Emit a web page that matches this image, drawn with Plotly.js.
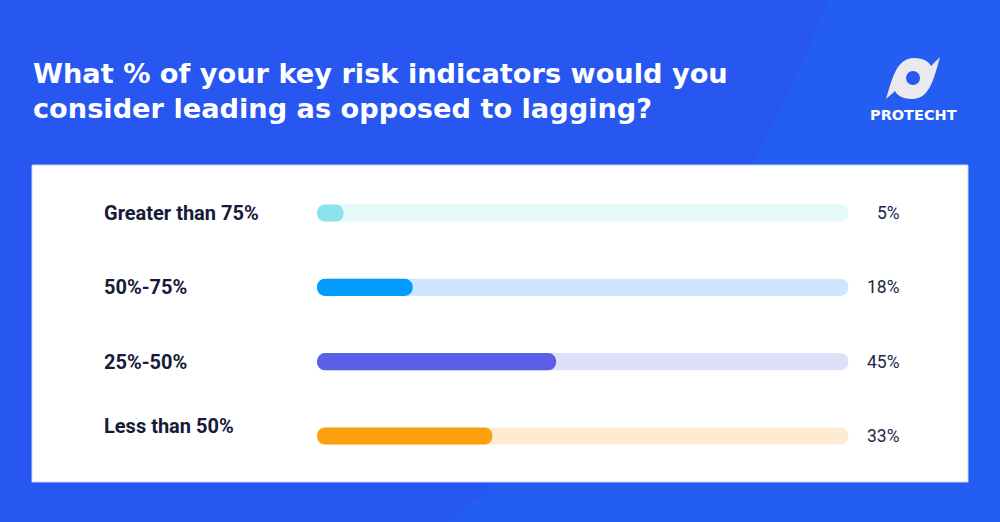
<!DOCTYPE html>
<html>
<head>
<meta charset="utf-8">
<script src="https://cdn.plot.ly/plotly-3.0.1.min.js"></script>
<style>
  html, body { margin: 0; padding: 0; background: #2757F0; }
  #chart { width: 1000px; height: 522px; }
</style>
</head>
<body>
<div id="chart"></div>
<script>
// survey answers, top row first
var answers = ['Greater than 75%', '50%-75%', '25%-50%', 'Less than 50%']
var shares = [5, 18, 45, 33]
var track = [100, 100, 100, 100]
var starts = [0, 0, 0, 0]
var valueLabels = ['5%', '18%', '45%', '33%']

var barColors = ['#8BE3EE', '#039BFE', '#5B5FE8', '#FE9F0E']
var trackColors = ['#E5F8FA', '#CDE8FE', '#DEDFF8', '#FEEBD2']

var W = 1000, H = 522
function px(x) { return x / W }
function py(y) { return 1 - y / H }
// turn a pixel path into a paper path
function pathPx(pts) {
    return pts.map(p => {
        if (typeof p == 'string') return p
        return px(p[0]).toFixed(4) + ',' + py(p[1]).toFixed(4)
    }).join(' ')
}

// bars given an explicit base get rounded on both ends -> pill shape
function pill(vals, colors) {
    return {
        type: 'bar', orientation: 'h', y: answers, x: vals, base: starts, width: 0.23,
        marker: { color: colors, cornerradius: '50%', line: { width: 0 } },
        hoverinfo: 'skip', showlegend: false
    }
}

var data = [pill(track, trackColors), pill(shares, barColors)]

var annotations = []
answers.forEach((a, i) => {
    annotations.push({
        xref: 'paper', yref: 'y', x: px(102), y: a,
        xanchor: 'left', yanchor: 'middle',
        yshift: i == 3 ? 10 : 0,
        text: '<b>' + a + '</b>', showarrow: false,
        font: { family: 'Roboto', size: 20, color: '#171A38' }
    })
    annotations.push({
        xref: 'x', yref: 'y', x: 100, y: a,
        xanchor: 'right', yanchor: 'middle', xshift: 53,
        text: valueLabels[i], showarrow: false,
        font: { family: 'Roboto', size: 17.5, color: '#22264A' }
    })
})

annotations.push({
    xref: 'paper', yref: 'paper', x: px(31), y: py(91),
    xanchor: 'left', yanchor: 'middle', align: 'left',
    text: 'What % of your key risk indicators would you<br>consider leading as opposed to lagging?',
    showarrow: false,
    font: { family: 'DejaVu Sans', size: 27.2, weight: 700, color: '#FFFFFF' }
})
annotations.push({
    xref: 'paper', yref: 'paper', x: px(913), y: py(115),
    xanchor: 'center', yanchor: 'middle',
    text: 'PROTECHT', showarrow: false,
    font: { family: 'DejaVu Sans', size: 14.5, weight: 700, color: '#FFFFFF' }
})

var shapes = [
    // lighter sweep in the background
    {
        type: 'path', xref: 'paper', yref: 'paper', layer: 'below',
        path: 'M ' + pathPx([[828, 0], 'Q', [700, 330], [448, 522], 'L', [1000, 522], 'L', [1000, 0]]) + ' Z',
        fillcolor: 'rgba(20,120,255,0.18)', line: { width: 0 }
    },
    // white card
    {
        type: 'rect', xref: 'paper', yref: 'paper', layer: 'below',
        x0: px(32), x1: px(968), y0: py(482), y1: py(165),
        fillcolor: '#FFFFFF', line: { color: '#C9D3F5', width: 1 }
    },
    // logo body
    {
        type: 'path', xref: 'paper', yref: 'paper',
        path: 'M ' + pathPx([[886, 99], 'C', [892, 80], [896, 58], [914, 58],
            'C', [924, 58], [929, 62], [931, 66], 'L', [940, 57],
            'C', [934, 78], [930, 99], [912, 99],
            'C', [902, 99], [897, 95], [895, 91]]) + ' Z',
        fillcolor: '#E9E9EE', line: { width: 0 }
    },
    // logo hole
    {
        type: 'circle', xref: 'paper', yref: 'paper',
        x0: px(906), x1: px(920), y0: py(85), y1: py(71),
        fillcolor: '#2757F0', line: { width: 0 }
    }
]

var layout = {
    width: W,
    height: H,
    margin: { l: 0, r: 0, t: 0, b: 0 },
    paper_bgcolor: '#2757F0',
    plot_bgcolor: 'rgba(0,0,0,0)',
    barmode: 'overlay',
    xaxis: {
        domain: [px(317), px(848.5)],
        range: [0, 100],
        visible: false,
        fixedrange: true
    },
    yaxis: {
        type: 'category',
        domain: [py(473.2), py(175.8)],
        range: [3.5, -0.5],
        visible: false,
        fixedrange: true
    },
    annotations: annotations,
    shapes: shapes
}

Plotly.newPlot('chart', data, layout, { displayModeBar: false, staticPlot: true })
</script>
</body>
</html>
